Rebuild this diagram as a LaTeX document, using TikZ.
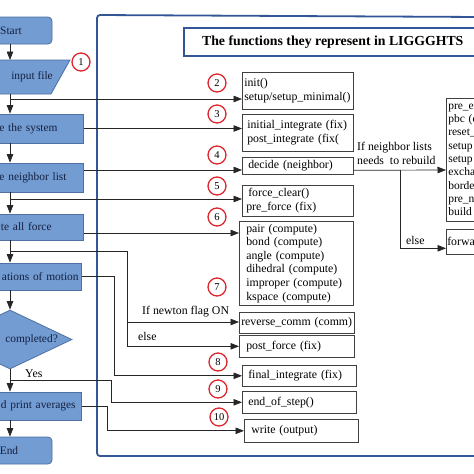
\documentclass[tikz,border=0pt]{standalone}
\usepackage{fontspec}
\setmainfont{Liberation Serif}
\usetikzlibrary{positioning,shapes.geometric,arrows.meta}

\definecolor{flowfill}{RGB}{114,156,210}
\definecolor{flowdraw}{RGB}{78,112,162}
\definecolor{flowtext}{RGB}{22,32,64}
\definecolor{panelblue}{RGB}{50,86,150}
\definecolor{markred}{RGB}{220,38,44}

\begin{document}
\begin{tikzpicture}[x=1pt, y=-1pt, font=\fontsize{11.8}{13.6}\selectfont,
	flowbase/.style = {draw=flowdraw, fill=flowfill, line width=0.8pt},
	flow/.style = {rectangle, flowbase, anchor=east, text width=110pt,
	align=right, inner ysep=0pt, text=flowtext, font=\fontsize{11.4}{13}\selectfont},
	terminal/.style = {rectangle, flowbase, rounded corners=4pt, text=flowtext,
	font=\fontsize{11.4}{13}\selectfont},
	flowtxt/.style = {anchor=east, inner sep=0pt, text=flowtext,
	font=\fontsize{11.4}{13}\selectfont},
	func/.style = {rectangle, draw=black!75, fill=white, line width=0.6pt,
	anchor=north west, align=left, inner ysep=0pt},
	num/.style = {circle, draw=markred, line width=1.3pt, fill=white,
	minimum size=18pt, inner sep=0pt, font=\fontsize{10.5}{11}\selectfont},
	arr/.style = {-{Triangle[length=8.5pt,width=6.5pt]}, black!85, line width=0.7pt},
	panel/.style = {draw=panelblue, line width=1.8pt} ]

  \useasboundingbox (0,0) rectangle (474,474);
  \clip (0,0) rectangle (474,474);

  % outer panel
  \draw [panel, rounded corners=3pt] (480,17) -- (97,15) -- (97,456) -- (480,456);
  \node [name=title, panel, line width=1.5pt, anchor=north west,
	minimum width=298pt, minimum height=28pt,
	font=\bfseries\fontsize{13.8}{15}\selectfont] at (183,27)
	{The functions they represent in LIGGGHTS};

  % flow chart on the left
  \coordinate (colx) at (10,0);
  \node [name=start, terminal, minimum width=82pt, minimum height=27pt] at (11,30.5) {Start};
  \filldraw [flowbase] (-40,60) -- (70,60) -- (51,94) -- (-40,94) -- cycle;
  \node [name=input, flowtxt] at (53,77) {input file};
  \coordinate (intop) at (10,60);
  \coordinate (inbot) at (10,94);
  \node [name=system, flow, inner xsep=26pt, minimum height=29pt] at (84,128.5) {e the system};
  \node [name=neigh, flow, inner xsep=17pt, minimum height=29pt] at (84,177.5) {e neighbor list};
  \node [name=force, flow, inner xsep=32pt, minimum height=26pt] at (84,227) {te all force};
  \node [name=motion, flow, inner xsep=3pt, minimum height=27pt] at (82,276.5) {ations of motion};
  \node [name=check, diamond, flowbase, aspect=2.1, minimum width=124pt,
	minimum height=59pt, inner sep=0pt] at (10,339.5) {};
  \node [name=checktxt, flowtxt] at (58,340) {completed?};
  \node [name=output, flow, inner xsep=6pt, minimum height=28pt] at (82,406) {d print averages};
  \node [name=finish, terminal, minimum width=86pt, minimum height=27pt] at (9,450.5) {End};

  \draw [arr] (start.south -| colx) -- (intop);
  \draw [arr] (inbot) -- (system.north -| colx);
  \draw [arr] (system.south -| colx) -- (neigh.north -| colx);
  \draw [arr] (neigh.south -| colx) -- (force.north -| colx);
  \draw [arr] (force.south -| colx) -- (motion.north -| colx);
  \draw [arr] (motion.south -| colx) -- (check.north);
  \draw [arr] (check.south) -- (output.north -| colx);
  \draw [arr] (output.south -| colx) -- (finish.north -| colx);
  \node [name=yes, anchor=west, inner sep=0pt] at (25,374) {Yes};

  % functions on the right
  \node [name=init, func, text width=107pt, inner xsep=2pt, minimum height=37pt]
	at (242,72) {init()\\setup/setup\_minimal()};
  \node [name=integ, func, text width=101pt, inner xsep=5pt, minimum height=37pt]
	at (242,114) {initial\_integrate (fix)\\post\_integrate (fix(};
  \node [name=decide, func, text width=99pt, inner xsep=6pt, minimum height=17pt]
	at (242,157) {decide (neighbor)};
  \node [name=clear, func, text width=103pt, inner xsep=4pt, minimum height=31pt]
	at (242,185) {\,force\_clear()\\pre\_force (fix)};
  \node [name=compute, func, text width=100pt, inner xsep=7pt, minimum height=84pt]
	at (239,221) {pair (compute)\\bond (compute)\\angle (compute)\\dihedral (compute)\\improper (compute)\\kspace (compute)};
  \node [name=reverse, func, text width=111pt, inner xsep=2pt, minimum height=21pt]
	at (239,312) {reverse\_comm (comm)};
  \node [name=post, func, text width=101pt, inner xsep=7pt, minimum height=22pt]
	at (239,335) {post\_force (fix)};
  \node [name=final, func, text width=102pt, inner xsep=6pt, minimum height=21pt]
	at (242,365) {final\_integrate (fix)};
  \node [name=endstep, func, text width=102pt, inner xsep=6pt, minimum height=22pt]
	at (242,391) {end\_of\_step()};
  \node [name=write, func, text width=100pt, inner xsep=7pt, minimum height=23pt]
	at (244,419) {write (output)};
  \node [name=rebuild, func, text width=40pt, inner xsep=2pt, minimum height=123pt,
	font=\fontsize{11.5}{13.3}\selectfont]
	at (446,98) {pre\_ex\\pbc (d\\reset\_b\\setup\\setup\\exchan\\border\\pre\_ne\\build};
  \node [name=forward, func, text width=40pt, inner xsep=1pt, minimum height=25pt]
	at (446,229) {forwar};

  % branch points
  \coordinate (j2) at (10,99);
  \coordinate (j5) at (10,199);
  \coordinate (j7) at (10,251);
  \coordinate (j9) at (10,380);
  \coordinate (nsplit) at (127,322);
  \coordinate (split) at (400,170);

  \draw [arr] (j2) -- (j2 -| init.west);
  \draw [arr] (system.east) -- (system.east -| integ.west);
  \draw [arr] ([yshift=7.5pt]neigh.east) -- ([yshift=7.5pt]neigh.east -| decide.west);
  \draw [arr] (j5) -- (j5 -| clear.west);
  \draw [arr] ([yshift=-6pt]force.east) -- ([yshift=-6pt]force.east -| compute.west);
  \draw [arr] (j7) -| (nsplit) -- (nsplit -| reverse.west);
  \draw [arr] (nsplit) |- (post.west);
  \draw [arr] (motion.east) -- ++(32,0) |- (final.west);
  \draw [arr] (j9) -- ++(101,0) |- (endstep.west);
  \draw [arr] (output.east) -- ++(25,0) |- (write.west);
  \draw [arr] ([yshift=-4.5pt]decide.east) -- (split -| rebuild.west);
  \draw [arr] (split) |- ([yshift=-6.5pt]forward.west);

  \node [name=newton, anchor=west, inner sep=0pt] at (142,312) {If newton flag ON};
  \node [name=elsenewton, anchor=west, inner sep=0pt] at (138,336) {else};
  \node [name=iflist, anchor=west, align=left, inner sep=0pt] at (357,153.5)
	{If neighbor lists\\needs\ \ to rebuild};
  \node [name=elselist, anchor=west, inner sep=0pt] at (406,240) {else};

  % step numbers
  \node [name=m1, num] at (81,62) {1};
  \node [name=m2, num] at (217,83) {2};
  \node [name=m3, num] at (217,114) {3};
  \node [name=m4, num] at (217,155) {4};
  \node [name=m5, num] at (217,186) {5};
  \node [name=m6, num] at (217,217) {6};
  \node [name=m7, num] at (217,287) {7};
  \node [name=m8, num] at (218,362) {8};
  \node [name=m9, num] at (218,389) {9};
  \node [name=m10, num] at (219,417) {10};
\end{tikzpicture}
\end{document}
